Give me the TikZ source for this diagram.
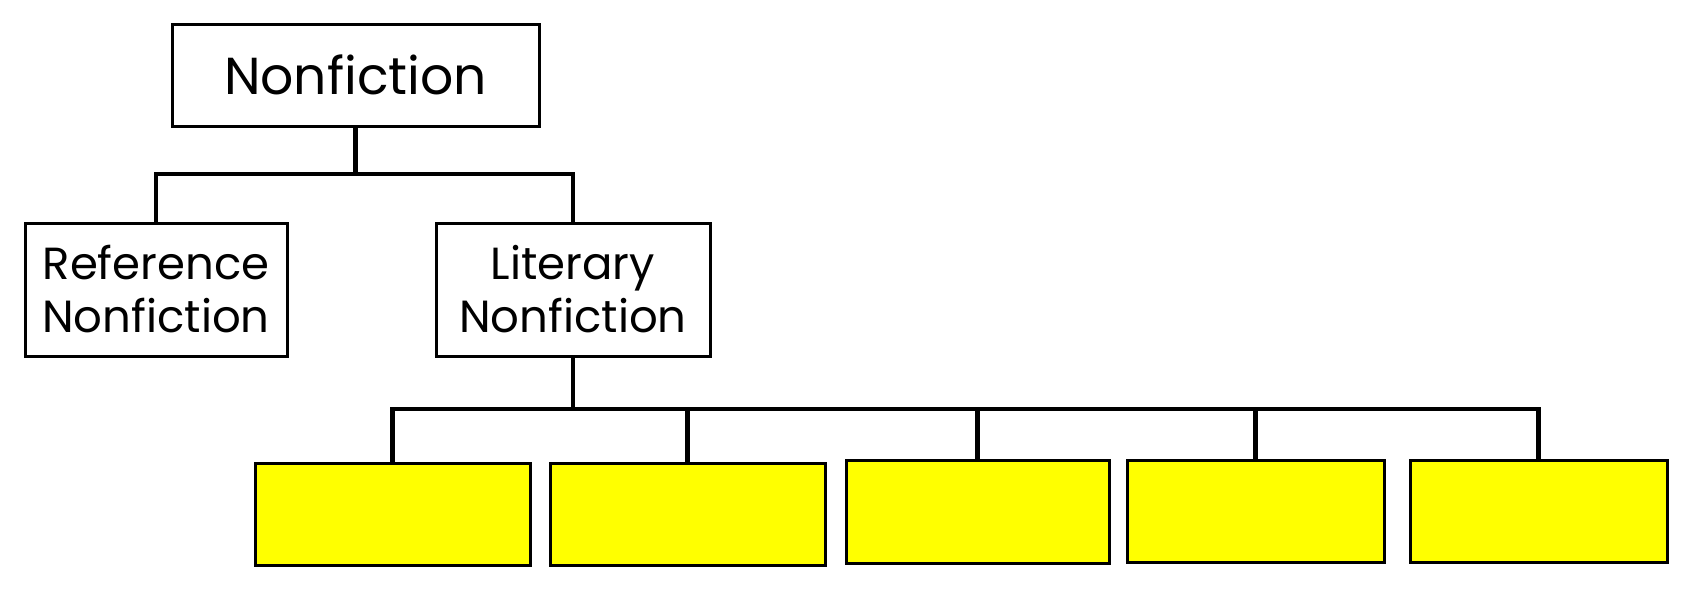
\documentclass[tikz,border=0pt]{standalone}
\usepackage{fontspec}
\setmainfont{Poppins}
\definecolor{leafy}{RGB}{255,255,0}
\begin{document}
\begin{tikzpicture}[x=1pt,y=-1pt,
  box/.style={draw=black,line width=3pt,fill=white,inner sep=0pt,align=center},
  leaf/.style={draw=black,line width=3pt,fill=leafy,inner sep=0pt},
  conn/.style={draw=black,line width=4.5pt}]
\useasboundingbox[fill=white] (0,0) rectangle (1688,592);
\node[box,minimum width=367pt,minimum height=102pt,font=\fontsize{52}{60}\selectfont] (nf) at (355.5,75) {Nonfiction};
\node[box,minimum width=262pt,minimum height=133pt,font=\fontsize{45}{53}\selectfont] (ref) at (156,289.5) {Reference\\Nonfiction};
\node[box,minimum width=274pt,minimum height=133pt,font=\fontsize{45}{53}\selectfont] (lit) at (573,289.5) {Literary\\Nonfiction};
\node[leaf,minimum width=275pt,minimum height=102pt] (y1) at (392.5,514) {};
\node[leaf,minimum width=275pt,minimum height=102pt] (y2) at (687.5,514) {};
\node[leaf,minimum width=263pt,minimum height=103pt] (y3) at (977.5,511.5) {};
\node[leaf,minimum width=257pt,minimum height=102pt] (y4) at (1255.5,511) {};
\node[leaf,minimum width=257pt,minimum height=102pt] (y5) at (1538.5,511) {};
\coordinate (b1) at (0,174);
\coordinate (b2) at (0,409);
\draw[conn] (nf.south) -- (nf.south |- b1) -| (ref.north);
\draw[conn] (nf.south |- b1) -| (lit.north);
\draw[conn] (lit.south) -- (lit.south |- b2) -| (y1.north);
\foreach \k in {2,3,4,5} {
  \draw[conn] (lit.south |- b2) -| (y\k.north);
}
\end{tikzpicture}
\end{document}
